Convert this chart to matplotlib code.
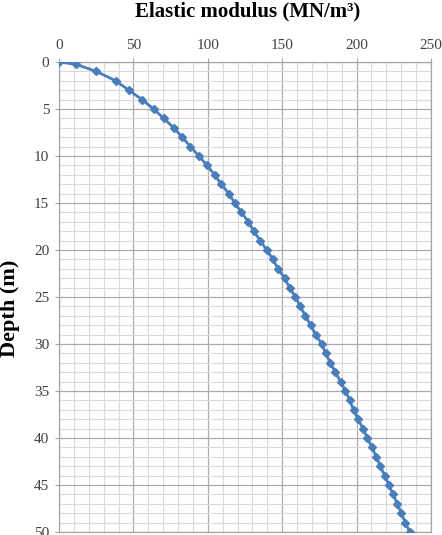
import matplotlib
matplotlib.use("Agg")
import matplotlib.pyplot as plt
from matplotlib.ticker import MultipleLocator

# Profil du module élastique avec la profondeur
depth = [0, 0.25, 1, 2, 3, 4, 5, 6, 7, 8, 9, 10, 11, 12, 13, 14, 15, 16, 17, 18, 19,
         20, 21, 22, 23, 24, 25, 26, 27, 28, 29, 30, 31, 32, 33, 34, 35, 36, 37, 38, 39,
         40, 41, 42, 43, 44, 45, 46, 47, 48, 49, 50]
modulus = [0, 11.5, 25.1, 38.1, 47.0, 55.8, 63.6, 70.4, 77.1, 82.9, 88.3, 94.1, 99.5,
           104.6, 109.0, 114.2, 118.1, 122.6, 127.3, 130.8, 135.3,
           139.6, 143.8, 147.2, 151.7, 155.0, 158.9, 162.2, 165.6, 169.2, 172.5,
           176.6, 179.2, 182.4, 185.7, 189.3, 192.5, 195.4, 198.0, 201.0, 204.3,
           207.3, 210.3, 213.3, 216.0, 218.9, 221.8, 224.5, 227.4, 230.1, 232.8, 235.7]

plt.rcParams['font.family'] = ['Liberation Serif', 'DejaVu Serif']

fig = plt.figure(figsize=(4.42, 5.35), dpi=100)
ax = fig.add_axes([0.1335, 0.0056, 0.8415, 0.8785])

ax.plot(modulus, depth, color='#4a7ebb', linewidth=2, marker='D', markersize=4.5,
        markeredgecolor='#4a7ebb', markerfacecolor='#4a7ebb', zorder=3)

ax.set_xlim(0, 250)
ax.set_ylim(50, 0)
ax.xaxis.tick_top()
ax.xaxis.set_major_locator(MultipleLocator(50))
ax.xaxis.set_minor_locator(MultipleLocator(10))
ax.yaxis.set_major_locator(MultipleLocator(5))
ax.yaxis.set_minor_locator(MultipleLocator(1))

ax.grid(which='major', color='#ababab', linewidth=0.9)
ax.grid(which='minor', color='#dadada', linewidth=0.8)
ax.set_axisbelow(True)

ax.tick_params(which='major', length=3, color='#a6a6a6', labelsize=11,
               labelcolor='#404040', pad=4)
ax.tick_params(which='minor', length=0)
for s in ax.spines.values():
    s.set_color('#a6a6a6')
    s.set_linewidth(0.9)

fig.text(0.56, 0.979, 'Elastic modulus (MN/m³)', ha='center', va='center',
         fontsize=15, fontweight='bold')
fig.text(0.023, 0.424, 'Depth (m)', ha='center', va='center', rotation=90,
         fontsize=16, fontweight='bold')

fig.savefig('out.png', dpi=100)
